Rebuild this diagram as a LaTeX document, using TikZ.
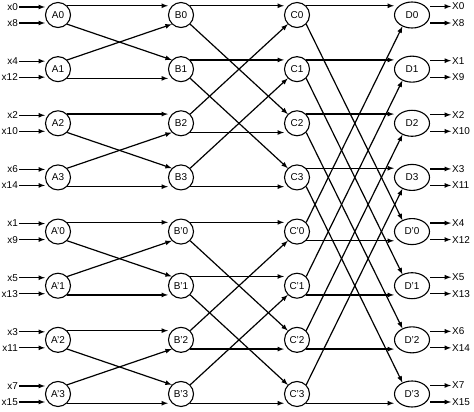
\documentclass[tikz,border=0pt]{standalone}
\usepackage{fontspec}
\setmainfont{Liberation Sans}
\usepackage{tikz}
\usetikzlibrary{positioning,arrows,shapes.geometric}

\tikzset{
  bfly/.style={circle,draw,line width=1.1pt,minimum size=25bp,inner sep=0pt},
  bflyout/.style={ellipse,draw,line width=1.1pt,minimum width=35bp,minimum height=26bp,inner sep=0pt},
  lbl/.style={inner sep=1bp},
  wire/.style={line width=1.2pt,-latex}
}

\begin{document}
\begin{tikzpicture}[x=1bp,y=-1bp,font=\fontsize{10}{12}\selectfont]
\useasboundingbox (0,0) rectangle (474,411);

\foreach \k/\t in {0/0,1/1,2/2,3/3,4/'0,5/'1,6/'2,7/'3} {
  \node[bfly] (a\k) at (58,15+54.14*\k) {A\t};
  \node[bfly] (b\k) at (181,15+54.14*\k) {B\t};
  \node[bfly] (c\k) at (297,15+54.14*\k) {C\t};
  \node[bflyout] (d\k) at (412,15+54.14*\k) {D\t};
}

\foreach \k/\p/\q in {0/0/8,1/4/12,2/2/10,3/6/14,4/1/9,5/5/13,6/3/11,7/7/15} {
  \node[lbl,anchor=east] (xin\p) at (19,7+54.14*\k) {x\p};
  \node[lbl,anchor=east] (xin\q) at (19,23+54.14*\k) {x\q};
  \draw[wire] (xin\p) -- (xin\p -| a\k.west);
  \draw[wire] (xin\q) -- (xin\q -| a\k.west);
}

\foreach \k/\p/\q in {0/0/8,1/1/9,2/2/10,3/3/11,4/4/12,5/5/13,6/6/14,7/7/15} {
  \node[lbl,anchor=west] (xout\p) at (451,6.5+54.14*\k) {X\p};
  \node[lbl,anchor=west] (xout\q) at (451,23+54.14*\k) {X\q};
  \draw[wire] (d\k.east |- xout\p) -- (xout\p);
  \draw[wire] (d\k.east |- xout\q) -- (xout\q);
}

\foreach \t/\u in {0/1,2/3,4/5,6/7} {
  \draw[wire] (a\t.45) -- (a\t.45 -| b\t.west);
  \draw[wire] (a\t.-45) -- (b\u.135);
  \draw[wire] (a\u.45) -- (b\t.-135);
  \draw[wire] (a\u.-45) -- (a\u.-45 -| b\u.west);
}

\foreach \t/\u in {0/2,1/3,4/6,5/7} {
  \draw[wire] (b\t.45) -- (b\t.45 -| c\t.west);
  \draw[wire] (b\t.-45) -- (c\u.135);
  \draw[wire] (b\u.45) -- (c\t.-135);
  \draw[wire] (b\u.-45) -- (b\u.-45 -| c\u.west);
}

\foreach \t/\u in {0/4,1/5,2/6,3/7} {
  \draw[wire] (c\t.45) -- (c\t.45 -| d\t.west);
  \draw[wire] (c\t.-45) -- (d\u.130);
  \draw[wire] (c\u.45) -- (d\t.-130);
  \draw[wire] (c\u.-45) -- (c\u.-45 -| d\u.west);
}

\end{tikzpicture}
\end{document}
